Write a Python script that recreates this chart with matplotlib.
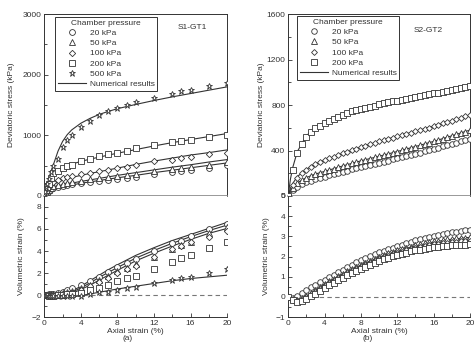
import numpy as np
import matplotlib
matplotlib.use("Agg")
import matplotlib.pyplot as plt
from matplotlib.lines import Line2D
from matplotlib.ticker import MultipleLocator

plt.rcParams["font.family"] = ["Liberation Sans", "DejaVu Sans"]
plt.rcParams["font.size"] = 6

INK = "#333333"

# ---- S1-GT1 test data (sparse readings) ----
eps_a = [0, 0.1, 0.2, 0.3, 0.5, 0.75, 1.0, 1.5, 2, 2.5, 3, 4, 5, 6, 7, 8, 9, 10, 12, 14, 15, 16, 18, 20]

q_a_20 = [0, 15, 35, 50, 80, 110, 130, 150, 165, 178, 190, 210, 230, 250, 270, 285, 300, 318, 355, 395, 410, 425, 465, 505]
q_a_50 = [0, 20, 45, 65, 100, 135, 160, 185, 205, 220, 232, 255, 275, 295, 315, 330, 348, 365, 405, 440, 455, 470, 510, 565]
q_a_100 = [0, 30, 60, 90, 140, 190, 230, 265, 290, 306, 328, 361, 382, 404, 426, 454, 481, 519, 579, 601, 628, 650, 688, 710]
q_a_200 = [0, 50, 100, 140, 200, 300, 372, 415, 464, 497, 519, 579, 612, 656, 694, 716, 743, 792, 841, 891, 912, 929, 967, 1005]
q_a_500 = [0, 70, 140, 200, 280, 400, 500, 617, 809, 929, 1011, 1137, 1235, 1339, 1399, 1448, 1508, 1546, 1623, 1688, 1727, 1749, 1814, 1863]

ev_a_20 = [0, 0, 0.02, 0.03, 0.05, 0.07, 0.1, 0.2, 0.3, 0.45, 0.63, 0.93, 1.29, 1.68, 2.13, 2.53, 2.94, 3.25, 4.03, 4.75, 4.93, 5.38, 6.01, 6.43]
ev_a_50 = [0, 0, 0, 0, 0, 0.02, 0.05, 0.1, 0.18, 0.28, 0.4, 0.6, 0.95, 1.35, 1.75, 2.15, 2.5, 2.85, 3.5, 4.15, 4.5, 4.85, 5.6, 6.15]
ev_a_100 = [0, 0, 0, -0.02, -0.03, -0.03, -0.02, 0, 0.05, 0.1, 0.18, 0.48, 0.78, 1.14, 1.59, 1.98, 2.35, 2.67, 3.43, 4.15, 4.45, 4.78, 5.29, 5.83]
ev_a_200 = [0, 0, -0.02, -0.03, -0.05, -0.06, -0.06, -0.04, 0, 0.05, 0.12, 0.23, 0.42, 0.66, 0.87, 1.23, 1.53, 1.77, 2.4, 3.03, 3.34, 3.64, 4.24, 4.84]
ev_a_500 = [0, 0, -0.02, -0.04, -0.06, -0.08, -0.1, -0.1, -0.1, -0.08, -0.05, -0.06, 0.09, 0.24, 0.3, 0.48, 0.63, 0.72, 1.08, 1.38, 1.53, 1.68, 1.98, 2.35]

# ---- S1-GT1 numerical results ----
eps_a_num = [0, 0.5, 1, 1.5, 2, 2.5, 3, 4, 5, 6, 7, 8, 10, 12, 14, 16, 18, 20]
qn_a_20 = [0, 65, 100, 128, 150, 165, 180, 210, 232, 255, 278, 300, 340, 385, 425, 465, 505, 545]
qn_a_50 = [0, 90, 130, 160, 180, 198, 212, 240, 265, 290, 315, 340, 385, 430, 475, 515, 560, 600]
qn_a_100 = [0, 120, 190, 230, 260, 285, 305, 340, 372, 400, 430, 460, 520, 575, 625, 675, 715, 760]
qn_a_200 = [0, 200, 330, 410, 460, 500, 525, 570, 608, 640, 675, 705, 765, 825, 880, 930, 980, 1030]
qn_a_500 = [0, 250, 520, 740, 900, 1010, 1090, 1200, 1280, 1345, 1395, 1440, 1510, 1575, 1635, 1690, 1745, 1800]

evn_a_20 = [0, -0.08, -0.15, -0.1, 0, 0.15, 0.35, 0.8, 1.3, 1.8, 2.3, 2.75, 3.6, 4.3, 4.95, 5.5, 6.05, 6.6]
evn_a_50 = [0, -0.1, -0.18, -0.13, -0.05, 0.08, 0.25, 0.65, 1.1, 1.6, 2.05, 2.5, 3.35, 4.05, 4.7, 5.3, 5.85, 6.35]
evn_a_100 = [0, -0.12, -0.2, -0.17, -0.1, 0, 0.15, 0.5, 0.9, 1.35, 1.8, 2.25, 3.1, 3.8, 4.45, 5.05, 5.6, 6.05]
evn_a_500 = [0, -0.12, -0.2, -0.24, -0.25, -0.23, -0.2, -0.05, 0.1, 0.25, 0.4, 0.55, 0.8, 1.05, 1.3, 1.5, 1.65, 1.8]

# ---- S2-GT2 test data (dense readings every 0.5 %) ----
eps_b = np.arange(0, 20.01, 0.5)

q_b_20 = [0, 50, 80, 102, 120, 134, 147, 159, 170, 181, 192, 203, 214, 224, 234, 244, 254, 263, 273, 282, 292,
          302, 312, 322, 332, 342, 352, 362, 372, 382, 393, 404, 415, 426, 437, 448, 459, 470, 482, 493, 505]
q_b_50 = [0, 70, 110, 138, 160, 178, 193, 205, 216, 228, 240, 252, 264, 276, 287, 298, 309, 319, 329, 339, 349,
          360, 370, 381, 391, 402, 413, 424, 435, 446, 457, 468, 480, 492, 504, 516, 529, 541, 554, 567, 580]
q_b_100 = [0, 100, 160, 200, 232, 258, 280, 298, 315, 331, 346, 360, 374, 388, 402, 416, 430, 443, 456, 468, 480,
           492, 503, 514, 525, 536, 547, 558, 569, 580, 591, 602, 614, 626, 638, 650, 663, 675, 687, 700, 712]
q_b_200 = [0, 230, 380, 460, 520, 565, 598, 620, 640, 660, 680, 698, 715, 730, 744, 755, 766, 776, 786, 796, 805,
           814, 823, 832, 840, 848, 856, 864, 872, 880, 887, 895, 902, 910, 918, 926, 934, 942, 950, 958, 965]

ev_b_20 = [0, -0.05, 0.05, 0.2, 0.35, 0.48, 0.6, 0.73, 0.85, 0.98, 1.1, 1.23, 1.35, 1.47, 1.6, 1.71, 1.82, 1.92, 2.02, 2.11, 2.2,
           2.28, 2.36, 2.44, 2.52, 2.59, 2.66, 2.73, 2.8, 2.86, 2.91, 2.97, 3.02, 3.07, 3.11, 3.16, 3.2, 3.23, 3.26, 3.29, 3.32]
ev_b_50 = [0, -0.1, -0.15, -0.08, 0.05, 0.2, 0.35, 0.5, 0.65, 0.78, 0.9, 1.03, 1.15, 1.27, 1.38, 1.49, 1.6, 1.7, 1.8, 1.9, 2.0,
           2.08, 2.15, 2.23, 2.3, 2.37, 2.43, 2.49, 2.55, 2.6, 2.65, 2.7, 2.75, 2.78, 2.81, 2.85, 2.88, 2.9, 2.92, 2.94, 2.95]
ev_b_100 = [0, -0.15, -0.2, -0.14, 0, 0.12, 0.25, 0.4, 0.55, 0.68, 0.8, 0.93, 1.05, 1.17, 1.28, 1.39, 1.5, 1.6, 1.7, 1.79, 1.88,
            1.96, 2.03, 2.11, 2.18, 2.24, 2.3, 2.36, 2.42, 2.47, 2.51, 2.56, 2.6, 2.63, 2.66, 2.69, 2.72, 2.74, 2.76, 2.77, 2.78]
ev_b_200 = [0, -0.15, -0.25, -0.2, -0.1, 0.02, 0.15, 0.3, 0.45, 0.58, 0.7, 0.83, 0.95, 1.07, 1.18, 1.29, 1.4, 1.5, 1.6, 1.69, 1.78,
            1.86, 1.93, 2.01, 2.08, 2.14, 2.19, 2.25, 2.3, 2.34, 2.38, 2.42, 2.45, 2.48, 2.51, 2.53, 2.55, 2.57, 2.58, 2.59, 2.6]

# ---- S2-GT2 numerical results ----
eps_b_num = [0, 0.25, 0.5, 1, 2, 3, 4, 6, 8, 10, 12, 14, 16, 18, 20]
qn_b_20 = [0, 35, 55, 85, 122, 147, 170, 214, 254, 292, 332, 372, 415, 459, 505]
qn_b_50 = [0, 50, 75, 115, 162, 193, 216, 264, 309, 349, 391, 435, 480, 529, 580]
qn_b_100 = [0, 70, 110, 170, 235, 280, 315, 375, 430, 480, 525, 569, 614, 663, 712]
qn_b_200 = [0, 150, 250, 390, 530, 600, 640, 715, 765, 805, 840, 872, 902, 934, 965]

eps_b_vnum = [0, 0.5, 1, 1.5, 2, 3, 4, 6, 8, 10, 12, 14, 16, 18, 20]
evn_b_20 = [0, -0.1, -0.05, 0.1, 0.28, 0.58, 0.85, 1.35, 1.82, 2.2, 2.5, 2.78, 3.0, 3.18, 3.3]
evn_b_50 = [0, -0.15, -0.18, -0.1, 0.02, 0.33, 0.63, 1.13, 1.58, 1.97, 2.28, 2.53, 2.72, 2.86, 2.95]
evn_b_100 = [0, -0.18, -0.22, -0.15, -0.02, 0.23, 0.53, 1.03, 1.48, 1.86, 2.16, 2.4, 2.58, 2.7, 2.77]
evn_b_200 = [0, -0.18, -0.27, -0.22, -0.12, 0.13, 0.43, 0.93, 1.38, 1.76, 2.06, 2.28, 2.43, 2.54, 2.6]

labels_a = ["20 kPa", "50 kPa", "100 kPa", "200 kPa", "500 kPa"]
markers_a = ["o", "^", "D", "s", "*"]
sizes_a = [4.2, 4.0, 3.2, 4.0, 4.6]
labels_b = labels_a[:4]
markers_b = markers_a[:4]
sizes_b = [4.0, 3.8, 3.0, 3.8]

fig = plt.figure(figsize=(4.74, 3.45), dpi=100)
ax1 = fig.add_axes([0.0935, 0.432, 0.3855, 0.527])
ax2 = fig.add_axes([0.0935, 0.081, 0.3855, 0.351])
ax3 = fig.add_axes([0.608, 0.432, 0.3835, 0.527])
ax4 = fig.add_axes([0.608, 0.081, 0.3835, 0.351])


def scatter(ax, x, y, m, s, ew=0.6):
    ax.plot(x, y, ls="none", marker=m, ms=s, mfc="white", mec=INK, mew=ew, zorder=3)


def style_top(ax, ymax, major, minor):
    ax.set_xlim(0, 20)
    ax.set_ylim(0, ymax)
    ax.yaxis.set_major_locator(MultipleLocator(major))
    ax.yaxis.set_minor_locator(MultipleLocator(minor))
    ax.tick_params(axis="x", bottom=False, labelbottom=False)
    ax.tick_params(axis="y", which="both", direction="in", right=False, colors=INK, labelsize=6, pad=2)
    ax.tick_params(axis="y", which="major", length=3, width=0.6)
    ax.tick_params(axis="y", which="minor", length=2, width=0.6)
    for side in ["top", "left", "right"]:
        ax.spines[side].set_color(INK)
        ax.spines[side].set_linewidth(0.7)
    ax.spines["bottom"].set_color("#888888")
    ax.spines["bottom"].set_linewidth(1.2)
    ax.set_ylabel("Deviatoric stress (kPa)", color=INK, fontsize=6)


def style_bottom(ax, ylo, yhi, major, minor):
    ax.set_xlim(0, 20)
    ax.set_ylim(ylo, yhi)
    ax.xaxis.set_major_locator(MultipleLocator(4))
    ax.xaxis.set_minor_locator(MultipleLocator(2))
    ax.yaxis.set_major_locator(MultipleLocator(major))
    ax.yaxis.set_minor_locator(MultipleLocator(minor))
    ax.tick_params(which="both", direction="in", colors=INK, labelsize=6, pad=2)
    ax.tick_params(which="major", length=3, width=0.6)
    ax.tick_params(which="minor", length=2, width=0.6)
    ax.spines["top"].set_visible(False)
    ax.spines["right"].set_visible(False)
    for side in ["left", "bottom"]:
        ax.spines[side].set_color(INK)
        ax.spines[side].set_linewidth(0.7)
    ax.axhline(0, color="#777777", ls=(0, (4, 3)), lw=0.8, zorder=1)
    ax.set_xlabel("Axial strain (%)", color=INK, fontsize=6, labelpad=1)
    ax.set_ylabel("Volumetric strain (%)", color=INK, fontsize=6)


def legend(ax, labels, markers, sizes, anchor):
    handles = [Line2D([], [], ls="none", marker=m, ms=s, mfc="white", mec=INK, mew=0.6)
               for m, s in zip(markers, sizes)]
    handles.append(Line2D([], [], color=INK, lw=0.8))
    leg = ax.legend(handles, labels + ["Numerical results"], title="Chamber pressure",
                    loc="upper left", bbox_to_anchor=anchor, fontsize=6, title_fontsize=6,
                    frameon=True, fancybox=False, framealpha=1, edgecolor=INK,
                    handlelength=3.4, handletextpad=0.4, labelspacing=0.28,
                    borderpad=0.35, borderaxespad=0)
    leg.get_frame().set_linewidth(0.7)
    for t in leg.get_texts():
        t.set_color(INK)
    leg.get_title().set_color(INK)


# (a) S1-GT1
for y in [qn_a_20, qn_a_50, qn_a_100, qn_a_200, qn_a_500]:
    ax1.plot(eps_a_num, y, color=INK, lw=0.8, zorder=2)
for y, m, s in zip([q_a_20, q_a_50, q_a_100, q_a_200, q_a_500], markers_a, sizes_a):
    scatter(ax1, eps_a, y, m, s)
style_top(ax1, 3000, 1000, 500)
legend(ax1, labels_a, markers_a, sizes_a, (0.059, 0.984))
ax1.text(0.81, 0.925, "S1-GT1", transform=ax1.transAxes, ha="center", va="center", color=INK, fontsize=6)

for y in [evn_a_20, evn_a_50, evn_a_100, evn_a_500]:
    ax2.plot(eps_a_num, y, color=INK, lw=0.8, zorder=2)
for y, m, s in zip([ev_a_20, ev_a_50, ev_a_100, ev_a_200, ev_a_500], markers_a, sizes_a):
    scatter(ax2, eps_a, y, m, s)
style_bottom(ax2, -2, 9, 2, 1)

# (b) S2-GT2
for y in [qn_b_20, qn_b_50, qn_b_100, qn_b_200]:
    ax3.plot(eps_b_num, y, color=INK, lw=0.8, zorder=2)
for y, m, s in zip([q_b_20, q_b_50, q_b_100, q_b_200], markers_b, sizes_b):
    scatter(ax3, eps_b, y, m, s)
style_top(ax3, 1600, 400, 200)
legend(ax3, labels_b, markers_b, sizes_b, (0.048, 0.989))
ax3.text(0.77, 0.91, "S2-GT2", transform=ax3.transAxes, ha="center", va="center", color=INK, fontsize=6)

for y in [evn_b_20, evn_b_50, evn_b_100, evn_b_200]:
    ax4.plot(eps_b_vnum, y, color=INK, lw=0.8, zorder=2)
for y, m, s in zip([ev_b_20, ev_b_50, ev_b_100, ev_b_200], markers_b, sizes_b):
    scatter(ax4, eps_b, y, m, s)
style_bottom(ax4, -1, 5, 1, 0.5)

ax1.yaxis.set_label_coords(-0.158, 0.5)
ax3.yaxis.set_label_coords(-0.125, 0.5)
ax2.yaxis.set_label_coords(-0.103, 0.5)
ax4.yaxis.set_label_coords(-0.098, 0.5)

fig.text(0.27, 0.01, "(a)", ha="center", va="bottom", color=INK, fontsize=6)
fig.text(0.776, 0.01, "(b)", ha="center", va="bottom", color=INK, fontsize=6)

fig.savefig("out.png", dpi=100)
